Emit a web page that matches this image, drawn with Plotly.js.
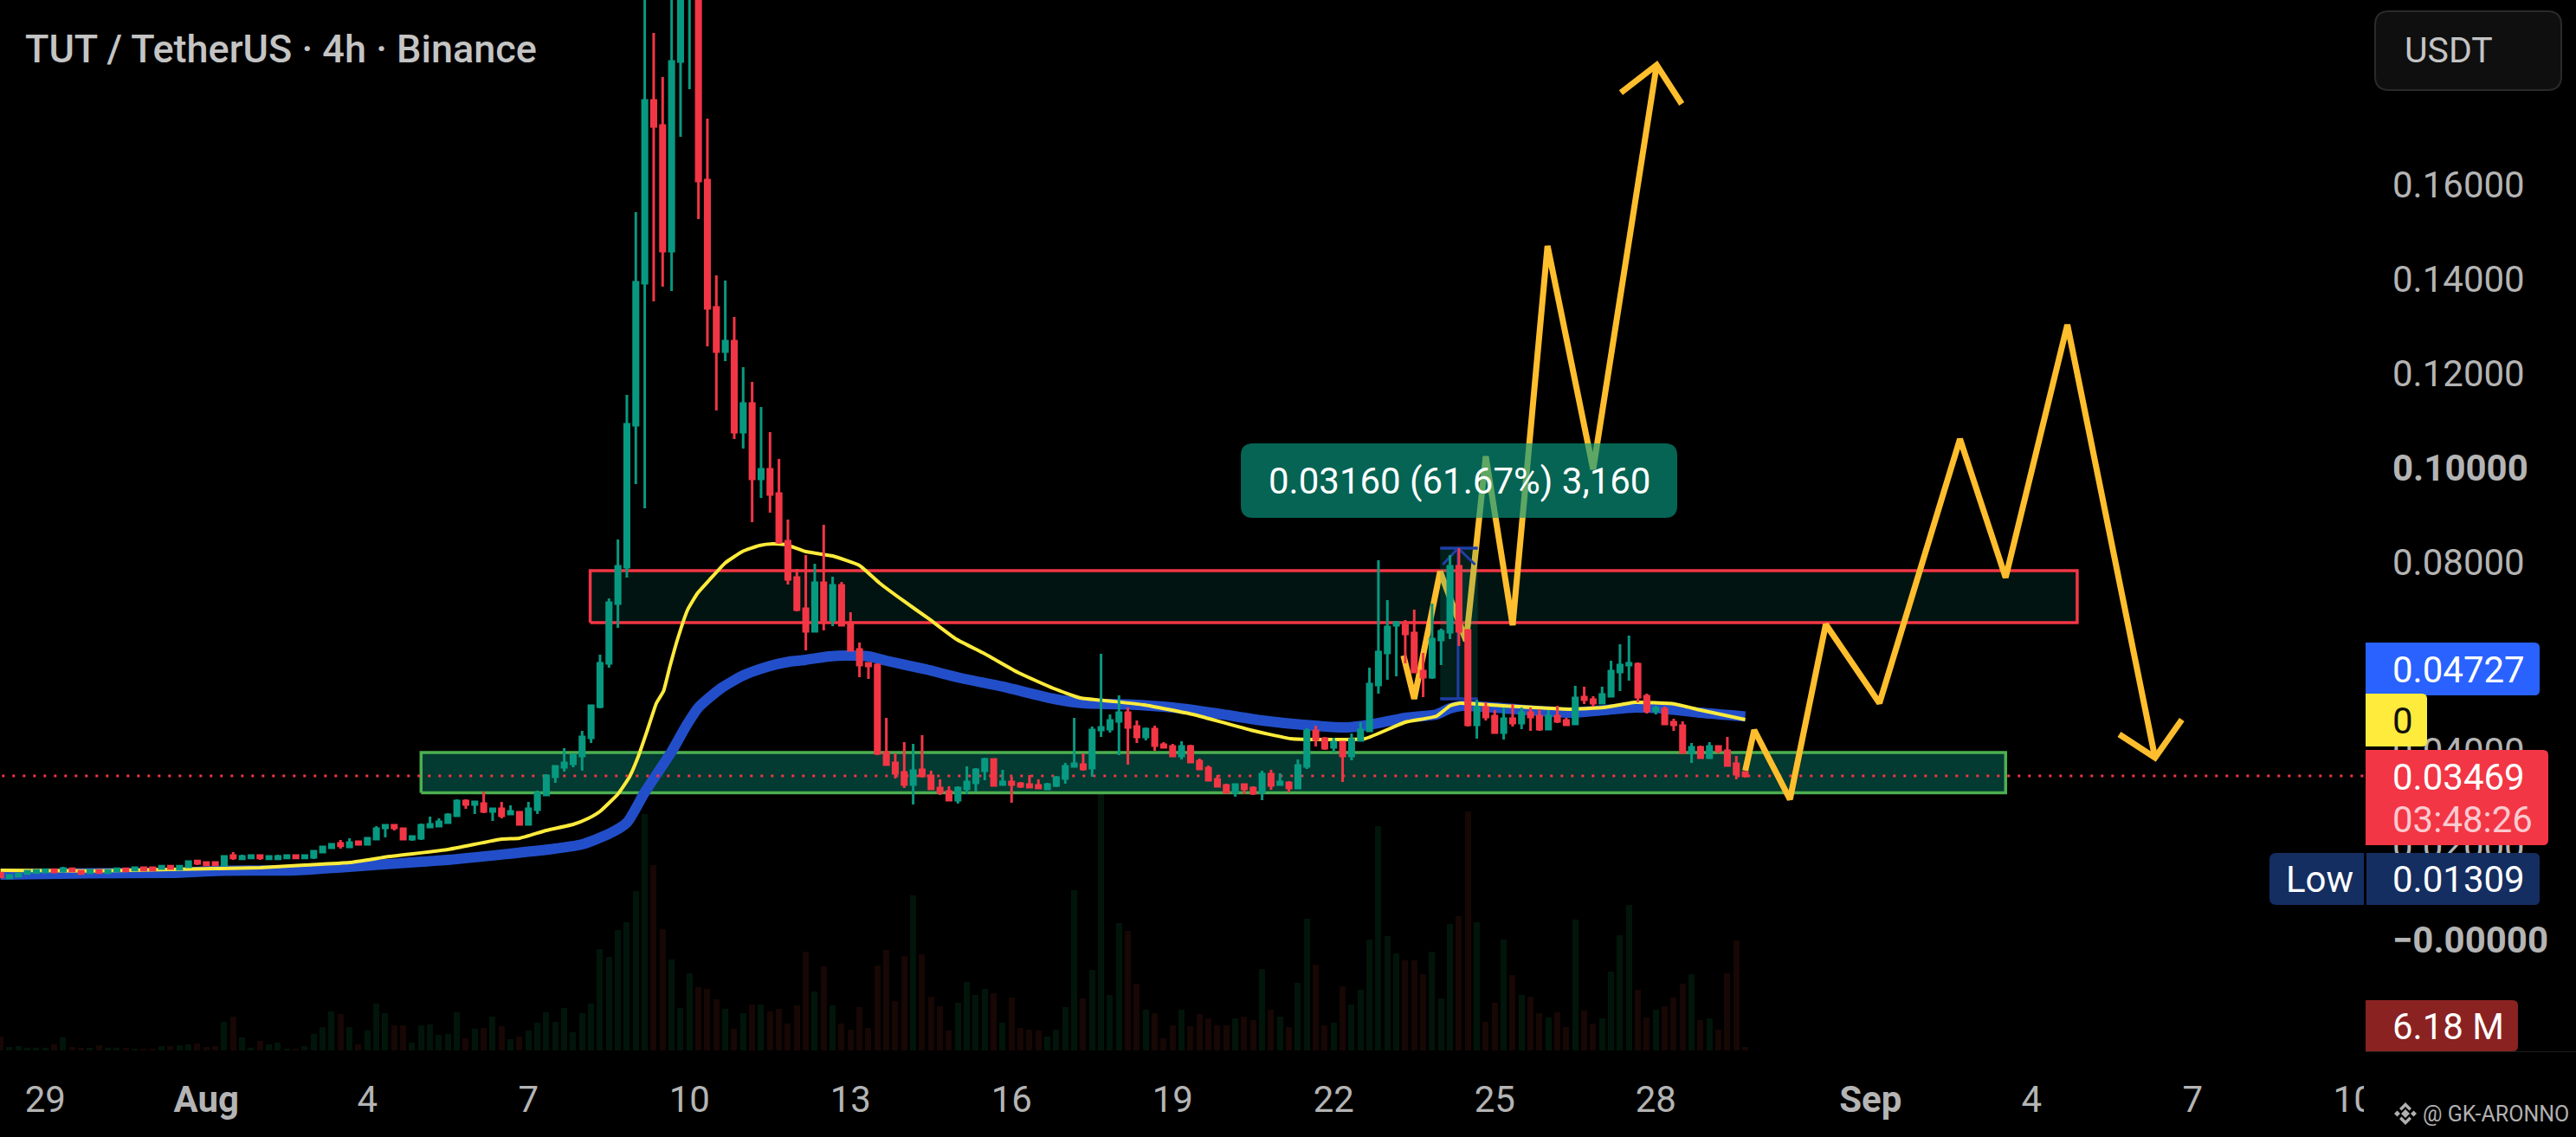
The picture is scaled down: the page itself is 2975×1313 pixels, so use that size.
<!DOCTYPE html>
<html>
<head>
<meta charset="utf-8">
<script src="https://cdn.plot.ly/plotly-3.0.1.min.js"></script>
<style>html,body{margin:0;padding:0;background:#000;overflow:hidden}#chart{width:2975px;height:1313px}</style>
</head>
<body>
<div id="chart"></div>
<script>
// Prices in thousandths of a USDT, one 4h bar per entry, first bar 2025-07-28 04:00
const openPrices = [
14.07,13.09,13.46,14.01,14.19,14.31,14.80,14.56,14.99,14.50,
14.19,14.62,14.19,14.56,14.99,14.74,15.23,15.23,15.05,15.54,
14.93,15.42,16.64,16.33,16.33,15.78,17.80,17.13,17.31,17.80,
17.13,17.13,17.31,17.80,17.31,17.43,18.53,19.45,20.37,19.64,
20.74,20.19,21.29,23.67,24.22,23.49,21.29,21.47,23.86,24.04,
24.77,26.24,29.36,28.63,28.81,27.16,27.71,26.61,26.97,24.40,
27.52,30.64,34.50,36.52,37.25,38.90,42.76,49.36,58.54,71.20,
78.91,109.00,139.09,177.81,172.49,145.88,186.07,200,215,160.93,
133.96,124.60,126.80,107.53,113.59,97.62,99.64,94.50,84.41,76.70,
70.10,65.33,75.60,67.71,75.05,66.98,61.47,58.54,58.17,39.64,
37.43,35.42,32.85,35.97,34.68,32.11,31.38,29.54,31.93,33.21,
35.78,38.17,32.85,33.40,33.03,32.85,32.66,31.93,32.66,34.13,
36.70,37.07,36.33,44.41,44.59,46.24,48.08,45.14,42.94,44.59,
41.29,40.92,38.90,40.92,37.80,36.33,33.95,32.66,31.20,32.85,
32.11,31.20,35.05,32.85,33.21,32.11,36.70,44.22,42.57,40.74,
41.84,38.90,42.21,44.22,53.95,60.74,66.61,66.61,64.96,56.89,
55.60,63.49,65.14,79.09,65.51,45.51,49.18,47.34,43.86,46.79,
45.88,48.08,47.34,44.59,47.34,46.43,45.69,51.38,50.83,50.10,
51.56,56.70,58.17,58.35,51.56,48.44,48.81,46.06,45.32,39.64,
40.74,38.54,40.92,40.00,37.25,35.42];
const highPrices = [
14.13,13.58,14.13,14.50,14.62,14.80,14.80,15.42,14.99,14.68,
14.62,14.62,14.62,14.99,14.99,15.23,15.23,15.23,15.54,15.54,
15.54,16.70,16.64,16.33,16.52,17.62,18.53,17.98,17.80,17.80,
17.62,17.98,17.80,17.80,17.80,18.72,19.64,20.37,21.10,21.47,
20.74,21.65,24.04,24.22,24.41,23.67,21.84,24.59,26.06,25.69,
26.79,29.73,29.73,29.36,31.38,27.89,29.18,28.44,26.97,29.18,
31.56,35.05,36.70,40.55,39.27,44.22,49.55,60.37,72.30,84.78,
115.42,154.14,210,192.12,182.77,215,235,250,240,173.96,
140.74,139.64,131.94,121.29,118.17,112.85,107.53,101.84,89.00,78.54,
81.47,79.64,87.90,76.89,75.79,69.36,62.94,58.54,58.54,46.98,
39.45,41.84,41.47,43.31,35.78,33.95,32.48,32.48,36.70,36.33,
38.54,38.17,35.97,34.50,33.40,34.87,33.95,33.21,34.68,37.43,
46.98,39.45,45.14,60.56,47.71,51.75,49.18,46.43,44.96,45.32,
41.84,41.47,42.02,41.29,38.35,36.88,34.87,33.03,33.03,33.03,
32.48,35.78,35.97,35.23,33.58,38.17,44.77,45.32,42.94,42.76,
41.84,43.67,46.06,57.62,80.37,71.93,67.50,67.71,69.91,60.74,
71.20,65.88,81.47,82.94,65.51,50.83,50.28,48.63,49.18,49.91,
49.18,49.18,48.81,48.63,49.55,46.98,53.77,53.58,51.56,53.58,
59.09,62.57,64.41,58.72,52.11,49.55,49.36,46.79,46.24,41.65,
41.10,41.84,41.10,42.94,38.90,35.42];
const lowPrices = [
13.21,13.09,13.46,14.01,13.95,14.31,14.13,14.19,14.56,14.01,
14.19,14.19,14.19,14.31,14.56,14.74,14.74,14.74,15.05,14.86,
14.68,15.42,15.78,15.84,15.84,15.78,16.88,17.13,17.31,16.88,
17.13,17.13,17.31,17.31,17.07,17.07,18.35,19.27,19.27,19.64,
20.19,20.19,21.29,21.65,23.12,21.29,20.92,21.10,23.86,23.86,
24.77,26.24,27.71,26.61,26.79,25.14,25.69,26.61,24.40,24.22,
26.61,30.46,33.21,35.60,36.52,35.78,41.65,49.00,57.62,66.06,
76.70,96.52,91.38,135.24,138.36,137.44,170.10,180.20,152.67,125.70,
112.12,122.58,106.06,104.04,88.45,93.59,90.47,83.86,75.24,69.55,
61.29,65.14,65.51,66.43,66.43,61.29,55.60,55.23,39.09,37.07,
34.13,32.11,28.63,34.31,31.93,30.64,29.54,28.81,30.83,31.38,
33.76,32.48,32.66,28.99,32.11,32.11,31.93,31.93,32.30,33.03,
36.70,35.78,34.50,42.94,43.86,39.09,37.07,41.65,42.21,40.00,
40.55,38.90,38.17,37.62,36.15,33.76,32.30,31.20,30.28,30.83,
30.64,29.54,31.75,32.66,31.20,32.11,36.15,40.92,40.19,39.64,
33.40,37.98,42.21,44.22,52.11,55.05,55.78,58.54,56.52,51.38,
55.23,58.17,63.67,62.21,45.14,42.57,46.43,43.67,42.39,45.14,
44.59,44.22,44.22,44.59,45.88,45.32,45.69,49.91,49.36,49.91,
51.38,52.66,54.87,50.28,47.89,47.71,45.69,44.22,39.64,37.43,
38.35,38.54,39.45,36.70,33.95,34.31];
const closePrices = [
13.27,13.58,13.89,14.50,14.62,14.80,14.31,15.05,14.56,14.01,
14.62,14.19,14.62,14.99,14.56,15.23,14.74,14.74,15.54,15.05,
15.54,16.52,16.15,15.84,15.84,17.62,17.31,17.62,17.80,17.31,
17.62,17.62,17.80,17.31,17.80,18.72,19.64,20.19,19.88,20.55,
20.19,21.47,23.49,24.22,23.67,21.29,21.84,24.22,24.41,24.96,
26.43,29.36,28.63,29.18,27.16,27.71,26.24,27.16,24.40,27.71,
31.01,34.68,36.70,37.43,39.09,42.94,49.55,58.54,71.38,79.09,
109.18,139.28,177.81,172.31,145.88,186.07,208.27,230,160.75,133.77,
124.60,126.80,107.53,113.59,97.62,99.64,94.32,84.23,76.34,69.91,
65.33,75.60,67.71,75.05,66.61,61.29,58.17,57.99,39.45,37.07,
35.23,32.85,35.78,34.68,31.93,31.20,29.54,32.11,33.40,35.97,
38.17,32.66,33.40,32.85,32.48,32.30,32.11,32.85,34.31,36.70,
37.25,36.15,44.41,44.96,46.43,48.08,44.96,42.94,44.59,41.10,
40.74,38.90,40.92,37.62,36.15,33.76,32.48,31.20,32.85,31.93,
31.01,35.05,32.66,33.40,32.11,36.88,44.22,42.39,40.55,41.84,
38.90,42.39,44.41,54.13,60.92,66.24,67.16,64.78,56.70,55.60,
63.67,65.33,79.09,65.33,45.51,49.18,47.16,43.86,46.79,45.88,
48.08,47.16,44.59,47.34,46.24,45.51,51.20,50.83,50.10,51.93,
56.89,58.17,58.54,51.38,48.44,48.99,45.69,45.51,39.64,40.74,
38.54,40.92,40.00,36.88,35.05,34.69];
// Volume, millions of TUT
const volumes = [
24,6,7.5,4.5,4.5,4.5,10.5,22.5,6,4.5,
4.5,9,4.5,4.5,4.5,3,3,3,7.5,7.5,
9,10.5,12,6,7.5,49.5,58.5,22.5,4.5,16.5,
10.5,13.5,3,3,7.5,28.5,40.5,67.5,63,40.5,
10.5,34.5,81,64.5,43.5,43.5,13.5,43.5,45,27,
28.5,66,21,37.5,39,58.5,42,19.5,24,34.5,
48,66,49.5,73.5,31.5,64.5,81,175.5,162,208.5,
222,276,409.5,321,210,157.5,73.5,133.5,109.5,106.5,
88.5,72,37.5,64.5,79.5,79.5,67.5,72,46.5,78,
171,102,145.5,78,46.5,36,75,39,147,174,
85.5,163.5,268.5,166.5,93,76.5,34.5,82.5,118.5,96,
106.5,99,48,91.5,39,36,34.5,24,36,75,
277.5,90,139.5,444,96,220.5,207,115.5,70.5,64.5,
21,43.5,70.5,42,63,55.5,43.5,43.5,55.5,58.5,
52.5,141,70.5,58.5,40.5,117,228,148.5,43.5,48,
111,79.5,105,192,388.5,198,168,156,156,132,
171,90,219,232.5,414,222,49.5,82.5,192,130.5,
96,93,64.5,57,66,40.5,226.5,69,46.5,55.5,
136.5,199.5,252,105,57,70.5,76.5,91.5,115.5,132,
52.5,55.5,36,133.5,190.5,6.18];

// Moving averages: bar number, price
const slowMaBars = [0,10,19,25,33,43,50,62,65,68,70,72,75,76.7,78,80.5,83,85.7,88.2,90,92.6,94.7,97,99,103.4,107.3,112,117.7,121,126,131,136,141,145.6,150.5,153,157,160.5,162,163.4,168,175.3,179.2,182.7,185,190,195];
const slowMaValues = [.01376,.01404,.01413,.01459,.01468,.01596,.01688,.01927,.02018,.02239,.02477,.03119,.03982,.04550,.04917,.05321,.05596,.05780,.05890,.05927,.06000,.06018,.06000,.05908,.05725,.05541,.05358,.05101,.05009,.04982,.04917,.04789,.04642,.04550,.04495,.04550,.04697,.04771,.04899,.04954,.04899,.04807,.04862,.04917,.04908,.04807,.04727];
const fastMaBars = [0,10,19,29,34,39,43.5,50,56,58,61,64,65.7,67,69,70.3,71.3,72.3,73.3,74.1,74.8,75.7,76.8,77.9,79.2,81,82.9,84.8,86.3,87.8,90,93,96,98.2,100.8,103.8,106.8,110,113.8,117.7,120.7,124.4,127.8,133.3,139.7,144.2,148.1,152.5,157,160.5,162,163.1,168,175.3,179.2,182.7,187.1,190,195];
const fastMaValues = [.01468,.01455,.01486,.01523,.01578,.01633,.01761,.01908,.02128,.02147,.02312,.02440,.02569,.02716,.03083,.03450,.03890,.04440,.05009,.05266,.05780,.06385,.06991,.07339,.07615,.07982,.08220,.08349,.08385,.08367,.08220,.08128,.07927,.07560,.07193,.06789,.06367,.06055,.05651,.05321,.05119,.05046,.04972,.04771,.04440,.04257,.04239,.04257,.04606,.04734,.04954,.05009,.04954,.04881,.04917,.05028,.04991,.04862,.04661];

// Hand-drawn projection paths: bar number, price
const upPathBars = [156.8,158,160.9,163.8,166,169,172.9,178,185.1];
const upPathValues = [.06018,.05101,.07798,.06330,.10239,.06661,.14697,.09963,.18532];
const upHeadBars = [181.1,185.1,187.9];
const upHeadValues = [.17945,.18532,.17706];
const downPathBars = [195,196,200,204,210,219,224.1,231,240.8];
const downPathValues = [.03578,.04440,.02972,.06679,.05009,.10606,.07670,.13028,.03853];
const downHeadBars = [236.8,240.8,243.8];
const downHeadValues = [.04349,.03853,.04661];

// Zones: first bar, last bar, low price, high price
const resistanceZone = [65.9, 232.1, .06716, .07817];
const supportZone = [47, 224.1, .03110, .03963];
// Measure tool: first bar, middle bar, last bar, low, high, arrowhead price
const measureBars = [160.9, 162.9, 165.1];
const measureValues = [.05101, .08294, .07945];
const lastPrice = 0.03469;

const dateTicks = ['2025-07-29','2025-08-01','2025-08-04','2025-08-07','2025-08-10','2025-08-13','2025-08-16','2025-08-19','2025-08-22','2025-08-25','2025-08-28','2025-09-01','2025-09-04','2025-09-07','2025-09-10'];
const dateLabels = ['29','<b>Aug</b>','4','7','10','13','16','19','22','25','28','<b>Sep</b>','4','7','10'];
const priceTicks = [0.16,0.14,0.12,0.10,0.08,0.04,0.02,0];
const priceLabels = ['0.16000','0.14000','0.12000','<b>0.10000</b>','0.08000','0.04000','0.02000','<b>\u22120.00000</b>'];

const FOUR_H = 4*3600*1000;
const barTime = i => Date.UTC(2025,6,28,4) + i*FOUR_H;
const milli = a => a.map(v => v/1000);
const times = openPrices.map((_, i) => barTime(i));
const GREEN='#089981', RED='#F23645', ORANGE='#FFBE2D', FONT='Roboto';
const priceRange = [-0.02367, 0.19908];

function lineTrace(bars, values, color, width, extra){
  return Object.assign({type:'scatter',mode:'lines',x:bars.map(barTime),y:values,xaxis:'x',yaxis:'y2',
    line:{color:color,width:width},hoverinfo:'skip',showlegend:false},extra||{});
}
function zoneTrace(z, color, fill, width){
  const [a,b,lo,hi]=z;
  return lineTrace([a,b,b,a,a],[lo,lo,hi,hi,lo],color,width,{fill:'toself',fillcolor:fill});
}

const traces = [
  {type:'bar',x:times,y:volumes,xaxis:'x',yaxis:'y',width:FOUR_H*0.68,
   marker:{color:closePrices.map((c,i)=>c>=openPrices[i]?'#02150a':'#170705'),line:{width:0}},hoverinfo:'skip',showlegend:false},
  zoneTrace(resistanceZone, RED, 'rgba(8,153,129,0.13)', 3.5),
  zoneTrace(supportZone, '#4CAF50', 'rgba(8,153,129,0.38)', 3.5),
  lineTrace(slowMaBars, slowMaValues, '#224FC9', 12, {line:{color:'#224FC9',width:12,shape:'spline',smoothing:0.6}}),
  lineTrace(fastMaBars, fastMaValues, '#FFEB3B', 4, {line:{color:'#FFEB3B',width:4,shape:'spline',smoothing:0.4}}),
  lineTrace([-1,265],[lastPrice,lastPrice], RED, 3, {line:{color:RED,width:3,dash:'3px,9px'}}),
  lineTrace(upPathBars, upPathValues, ORANGE, 7),
  lineTrace(upHeadBars, upHeadValues, ORANGE, 7),
  lineTrace(downPathBars, downPathValues, ORANGE, 7),
  lineTrace(downHeadBars, downHeadValues, ORANGE, 7),
  lineTrace([measureBars[0],measureBars[2],measureBars[2],measureBars[0],measureBars[0]],
            [measureValues[0],measureValues[0],measureValues[1],measureValues[1],measureValues[0]],
            'rgba(0,0,0,0)',0,{fill:'toself',fillcolor:'rgba(8,153,129,0.2)'}),
  lineTrace([measureBars[0],measureBars[2]],[measureValues[1],measureValues[1]],'#1E3FA6',3.5),
  lineTrace([measureBars[0],measureBars[2]],[measureValues[0],measureValues[0]],'#1E3FA6',3.5),
  lineTrace([measureBars[1],measureBars[1]],[measureValues[0],measureValues[1]],'#1E3FA6',3),
  lineTrace([measureBars[0]+0.3,measureBars[1],measureBars[2]-0.3],[measureValues[2],measureValues[1],measureValues[2]],'#1E3FA6',3),
  {type:'candlestick',x:times,open:milli(openPrices),high:milli(highPrices),low:milli(lowPrices),close:milli(closePrices),
   xaxis:'x',yaxis:'y3',width:FOUR_H*0.6,hoverinfo:'skip',showlegend:false,
   increasing:{line:{color:GREEN,width:3},fillcolor:GREEN},
   decreasing:{line:{color:RED,width:3},fillcolor:RED}}
];

// Chrome outside the data area, placed in page pixels
const PW = 2732, PH = 1214;
const px = x => x/PW, py = y => 1 - y/PH;
function round(x0,y0,x1,y1,rL,rR){
  return `M${px(x0+rL)},${py(y0)} L${px(x1-rR)},${py(y0)} Q${px(x1)},${py(y0)} ${px(x1)},${py(y0+rR)} L${px(x1)},${py(y1-rR)} Q${px(x1)},${py(y1)} ${px(x1-rR)},${py(y1)} L${px(x0+rL)},${py(y1)} Q${px(x0)},${py(y1)} ${px(x0)},${py(y1-rL)} L${px(x0)},${py(y0+rL)} Q${px(x0)},${py(y0)} ${px(x0+rL)},${py(y0)} Z`;
}
function poly(pts){return 'M'+pts.map(p=>px(p[0])+','+py(p[1])).join(' L')+' Z';}
const chip=(x0,y0,x1,y1,rL,rR,fill,line)=>({type:'path',xref:'paper',yref:'paper',path:round(x0,y0,x1,y1,rL,rR),fillcolor:fill,line:{width:line?2:0,color:line||fill},layer:'above'});
const cx=2778, cy=1286;
const shapes = [
  {type:'rect',xref:'paper',yref:'paper',x0:px(2730),x1:px(2975),y0:py(1214),y1:py(1313),fillcolor:'#000',line:{width:0},layer:'above'},
  {type:'line',xref:'paper',yref:'paper',x0:px(2732),x1:px(2975),y0:py(1214.5),y1:py(1214.5),line:{color:'#1d1d1d',width:1},layer:'above'},
  chip(2743,13,2958,104,16,16,'#0f0f0f','#2a2a2a'),
  chip(1433,512,1937,598,14,14,'rgba(8,153,129,0.65)'),
  chip(2732,742,2933,803,0,6,'#2962FF'),
  chip(2732,801,2803,862,0,6,'#FFEB3B'),
  chip(2732,866,2943,976,0,6,'#F23645'),
  chip(2621,985,2730,1045,8,0,'#142E61'),
  chip(2733,985,2933,1045,0,6,'#142E61'),
  chip(2732,1155,2908,1214,0,6,'#8A2222'),
  // exchange mark beside the author tag
  {type:'path',xref:'paper',yref:'paper',path:poly([[cx,cy-5],[cx+5,cy],[cx,cy+5],[cx-5,cy]]),fillcolor:'#b0b0b0',line:{width:0},layer:'above'},
  {type:'path',xref:'paper',yref:'paper',path:poly([[cx-13,cy],[cx-9.5,cy-3.5],[cx-6,cy],[cx-9.5,cy+3.5]]),fillcolor:'#b0b0b0',line:{width:0},layer:'above'},
  {type:'path',xref:'paper',yref:'paper',path:poly([[cx+13,cy],[cx+9.5,cy-3.5],[cx+6,cy],[cx+9.5,cy+3.5]]),fillcolor:'#b0b0b0',line:{width:0},layer:'above'},
  {type:'path',xref:'paper',yref:'paper',path:poly([[cx,cy-13],[cx+7,cy-6],[cx+4.5,cy-3.5],[cx,cy-8],[cx-4.5,cy-3.5],[cx-7,cy-6]]),fillcolor:'#b0b0b0',line:{width:0},layer:'above'},
  {type:'path',xref:'paper',yref:'paper',path:poly([[cx,cy+13],[cx+7,cy+6],[cx+4.5,cy+3.5],[cx,cy+8],[cx-4.5,cy+3.5],[cx-7,cy+6]]),fillcolor:'#b0b0b0',line:{width:0},layer:'above'}
];
const note=(text,x,y,size,color,anchor,weight)=>({text:text,xref:'paper',yref:'paper',x:px(x),y:py(y),xanchor:anchor||'left',yanchor:'middle',showarrow:false,borderpad:0,
  font:{family:FONT,size:size,color:color,weight:weight||400}});
const annotations = [
  note('TUT / TetherUS \u00b7 4h \u00b7 Binance',28,57,45,'#c4c4c4','left',500),
  note('USDT',2776,58,41,'#c4c4c4'),
  note('0.03160 (61.67%) 3,160',1685,555,42,'#ffffff','center'),
  note('0.04727',2762,773,42,'#ffffff'),
  note('0',2762,832,42,'#111111'),
  note('0.03469',2762,897,42,'#ffffff'),
  note('03:48:26',2762,946,42,'#fbc9cf'),
  note('Low',2639,1015,42,'#ffffff'),
  note('0.01309',2762,1015,42,'#ffffff'),
  note('6.18 M',2762,1185,42,'#ffffff'),
  note('@ GK-ARONNO',2797,1286,25,'#b0b0b0')
];
const tickFont={family:FONT,size:42,color:'#b4b4b4'};
const layout = {
  width:2975,height:1313,paper_bgcolor:'#000',plot_bgcolor:'#000',
  margin:{l:0,r:243,t:0,b:99,pad:0},showlegend:false,bargap:0,dragmode:false,hovermode:false,
  xaxis:{type:'date',range:['2025-07-28 03:45','2025-09-10 05:20'],tickmode:'array',tickvals:dateTicks,ticktext:dateLabels,
    rangeslider:{visible:false},showgrid:false,zeroline:false,showline:false,ticks:'',tickfont:tickFont,ticklabelstandoff:27,tickangle:0},
  yaxis:{range:[-1.5,1819.5],visible:false,fixedrange:true},
  yaxis2:{overlaying:'y',side:'right',anchor:'x',range:priceRange,tickmode:'array',tickvals:priceTicks,ticktext:priceLabels,
    showgrid:false,zeroline:false,showline:false,ticks:'',tickfont:tickFont,ticklabelstandoff:30,fixedrange:true},
  yaxis3:{overlaying:'y',side:'right',anchor:'x',range:priceRange,visible:false,fixedrange:true},
  shapes:shapes,annotations:annotations
};
Plotly.newPlot('chart',traces,layout,{displayModeBar:false,staticPlot:true,responsive:false});
</script>
</body>
</html>
